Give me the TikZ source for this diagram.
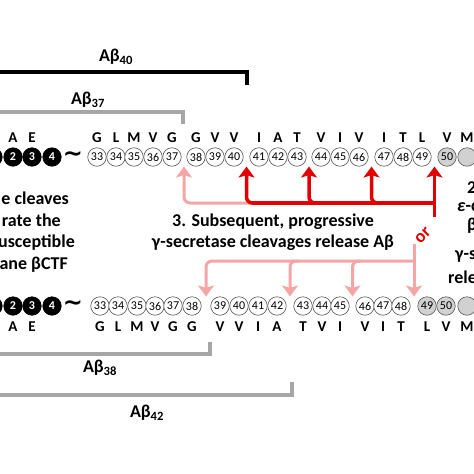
\documentclass[tikz,border=0pt]{standalone}
\usepackage{fontspec}
\setmainfont{Carlito}
\newfontfamily\tildefont{DejaVu Sans}
\usetikzlibrary{positioning,calc,arrows.meta}

\definecolor{cutred}{HTML}{E30000}
\definecolor{cutpink}{HTML}{F4A5A5}
\definecolor{bargray}{HTML}{A6A6A6}

\begin{document}
\begin{tikzpicture}[x=1pt,y=-1pt,
        res/.style={circle,draw=black!65,line width=0.6pt,fill=white,minimum size=18.5pt,
          inner sep=0pt,font=\fontsize{12}{12}\selectfont},
        nterm/.style={res,draw=black,fill=black,text=white,font=\fontsize{12}{12}\selectfont\bfseries},
        tmres/.style={res,fill=black!18},
        aa/.style={font=\fontsize{15}{15}\selectfont\bfseries},
        tilde/.style={font=\tildefont\bfseries\fontsize{24}{24}\selectfont},
        abeta/.style={font=\fontsize{18}{18}\selectfont\bfseries},
        txt/.style={font=\fontsize{18}{21}\selectfont\bfseries,inner sep=0pt},
        redln/.style={draw=cutred,line width=3.5pt},
        pinkln/.style={draw=cutpink,line width=3pt},
        tip/.style={-{Stealth[length=11pt,width=16pt,inset=2.5pt]}},
        blkbar/.style={draw=black,line width=4pt},
        gbar/.style={draw=bargray,line width=4pt}]
\useasboundingbox (0,0) rectangle (474,474);

% peptide lengths above
\draw[blkbar] (-5,72) -| (247,85);
\node[abeta] (ab40) at (116,57) {Aβ\textsubscript{40}};
\draw[gbar] (-5,112) -| (183,124);
\node[abeta] (ab37) at (88,100) {Aβ\textsubscript{37}};

% top row (epsilon cut after 49)
\foreach \n/\x in {1/-7,2/13,3/32,4/52}
  \node[nterm] (t\n) at (\x,157) {\n};
\node[aa] (ta2) at (13,138) {A};
\node[aa] (ta3) at (32,138) {E};
\node[tilde] (ttil) at (73,157) {\char"7E};
\foreach \n/\x/\l in {33/97/G,34/116/L,35/134/M,36/153/V,37/172/G,38/196/G,39/215/V,40/234/V,
    41/259/I,42/278/A,43/297/T,44/321/V,45/340/I,46/359/V,47/384/I,48/403/T,49/422/L}{
  \node[res] (t\n) at (\x,157) {\n};
  \node[aa] (ta\n) at (\x,138) {\l};
}
\node[tmres] (t50) at (447,157) {50};
\node[aa] (ta50) at (447,138) {V};
\node[tmres] (t51) at (467,157) {};
\node[aa] (ta51) at (467,138) {M};

% bottom row (epsilon cut after 48)
\foreach \n/\x in {1/-7,2/13,3/32,4/52}
  \node[nterm] (b\n) at (\x,306) {\n};
\node[aa] (ba2) at (13,327) {A};
\node[aa] (ba3) at (32,327) {E};
\node[tilde] (btil) at (73,306) {\char"7E};
\foreach \n/\x/\l in {33/100/G,34/118/L,35/137/M,36/155/V,37/173/G,38/192/G,39/220/V,40/239/V,
    41/258/I,42/277/A,43/303/T,44/322/V,45/340/I,46/365/V,47/383/I,48/401/T}{
  \node[res] (b\n) at (\x,306) {\n};
  \node[aa] (ba\n) at (\x,327) {\l};
}
\node[tmres] (b49) at (427,306) {49};
\node[aa] (ba49) at (427,327) {L};
\node[tmres] (b50) at (446,306) {50};
\node[aa] (ba50) at (446,327) {V};
\node[tmres] (b51) at (467,306) {};
\node[aa] (ba51) at (467,327) {M};

% peptide lengths below
\draw[gbar] (-5,354) -| (210,342);
\node[abeta] (ab38) at (100,368) {Aβ\textsubscript{38}};
\draw[gbar] (-5,395) -| (292,382);
\node[abeta] (ab42) at (147,413) {Aβ\textsubscript{42}};

% cleavage sites
\foreach \a/\b in {37/38,40/41,43/44,46/47,49/50}
  \coordinate (u\a) at ($(t\a.south)!.5!(t\b.south)$);
\foreach \a/\b in {38/39,42/43,45/46,48/49}
  \coordinate (d\a) at ($(b\a.north)!.5!(b\b.north)$);
\coordinate (hu) at (0,203);
\coordinate (hl) at (0,261);
\coordinate (redend) at ($(u49)+(0,50)$);
\coordinate (ptop) at ($(d48)+(0,-52)$);

\draw[pinkln,tip,rounded corners=6pt] ($(u40 |- hu)+(7,0)$) -| (u37);
\draw[redln] ($(u40 |- hu)+(5,0)$) -- (u49 |- hu);
\draw[redln,tip] (redend) -- (u49);
\foreach \c in {40,43,46}
  \draw[redln,tip,rounded corners=6pt] ($(u\c |- hu)+(9,0)$) -| (u\c);

\draw[pinkln,tip] (ptop) -- (d48);
\draw[pinkln,tip,rounded corners=6pt] (d48 |- hl) -| (d38);
\foreach \c in {42,45}
  \draw[pinkln,tip,rounded corners=6pt] ($(d\c |- hl)+(8,0)$) -| (d\c);
\node[txt,text=cutred,rotate=45] (or) at (423,236) {or};

% texts
\node[txt,align=center] (step3) at (273,232) {3. Subsequent, progressive\\γ-secretase cleavages release Aβ};
\node[txt,anchor=east] (s1a) at (69,198) {e cleaves};
\node[txt,anchor=east] (s1b) at (61,220) {rate the};
\node[txt,anchor=east] (s1c) at (75,243) {usceptible};
\node[txt,anchor=east] (s1d) at (68,265) {ane βCTF};
\node[txt,anchor=west] (s2a) at (467,188) {2};
\node[txt,anchor=west] (s2b) at (457,207) {\textit{ε}-c};
\node[txt,anchor=west] (s2c) at (467,226) {β};
\node[txt,anchor=west] (s2d) at (455,256) {γ-s};
\node[txt,anchor=west] (s2e) at (448,277) {rele};

\end{tikzpicture}
\end{document}
